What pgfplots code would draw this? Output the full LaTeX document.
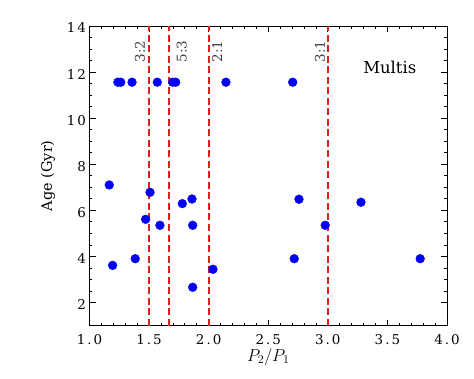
\documentclass[border=0pt]{standalone}
\usepackage{fontspec}
\setmainfont{DejaVu Serif}
\newfontfamily\tickfont[LetterSpace=15]{DejaVu Serif}
\usepackage{pgfplots}
\pgfplotsset{compat=1.18}
\definecolor{dotblue}{RGB}{0,0,245}
\definecolor{linered}{RGB}{225,30,30}
\begin{document}
\begin{tikzpicture}
\path[use as bounding box] (-89.5bp,-53.5bp) rectangle (384.5bp,325.5bp);
\begin{axis}[
  scale only axis,
  width=357.5bp, height=299.5bp,
  xmin=1, xmax=4, ymin=1, ymax=14,
  xtick={1,1.5,2,2.5,3,3.5,4},
  ytick={2,4,6,8,10,12,14},
  minor x tick num=4,
  minor y tick num=3,
  tick align=inside,
  major tick length=6bp,
  minor tick length=3bp,
  axis line style={line width=0.8bp},
  every tick/.style={black, line width=0.7bp},
  /pgf/number format/assume math mode=true,
  xticklabel style={/pgf/number format/fixed, /pgf/number format/fixed zerofill, /pgf/number format/precision=1, yshift=-5bp},
  yticklabel style={yshift=-2bp},
  tick label style={font=\tickfont\fontsize{13.5}{15}\selectfont},
  xlabel={$P_2/P_1$},
  ylabel={Age (Gyr)},
  xlabel style={font=\fontsize{17}{19}\selectfont, at={(axis description cs:0.5,-0.105)}, anchor=center},
  ylabel style={font=\fontsize{14.5}{16}\selectfont, at={(axis description cs:-0.116,0.5)}, anchor=center},
]
\addplot[linered, line width=1.6bp, dash pattern=on 7bp off 3.5bp] coordinates {(1.5,1) (1.5,14)};
\addplot[linered, line width=1.6bp, dash pattern=on 7bp off 3.5bp] coordinates {(1.6667,1) (1.6667,14)};
\addplot[linered, line width=1.6bp, dash pattern=on 7bp off 3.5bp] coordinates {(2.002,1) (2.002,14)};
\addplot[linered, line width=1.6bp, dash pattern=on 7bp off 3.5bp] coordinates {(3,1) (3,14)};
\addplot[only marks, mark=*, mark size=4.4bp, color=dotblue, mark options={fill=dotblue, draw=dotblue}] coordinates {
 (1.238,11.56) (1.262,11.56) (1.357,11.56) (1.569,11.56) (1.698,11.56) (1.723,11.56) (2.145,11.56) (2.705,11.56)
 (1.166,7.10) (1.508,6.78) (1.779,6.29) (1.860,6.49) (1.471,5.61) (1.591,5.35) (1.866,5.35)
 (1.384,3.90) (1.194,3.61) (2.036,3.44) (1.866,2.66)
 (2.758,6.48) (3.278,6.35) (2.978,5.35) (2.718,3.90) (3.775,3.90)
};
\node[rotate=90, text=black!75, font=\fontsize{13.5}{15}\selectfont] at (axis cs:1.424,12.9) {3:2};
\node[rotate=90, text=black!75, font=\fontsize{13.5}{15}\selectfont] at (axis cs:1.774,12.9) {5:3};
\node[rotate=90, text=black!75, font=\fontsize{13.5}{15}\selectfont] at (axis cs:2.072,12.9) {2:1};
\node[rotate=90, text=black!75, font=\fontsize{13.5}{15}\selectfont] at (axis cs:2.934,12.9) {3:1};
\node[font=\fontsize{16.5}{18}\selectfont] at (axis cs:3.52,12.22) {Multis};
\end{axis}
\end{tikzpicture}
\end{document}
